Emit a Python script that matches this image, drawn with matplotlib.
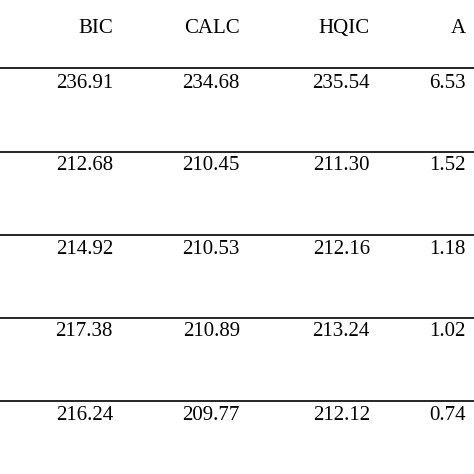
import matplotlib.pyplot as plt

plt.rcParams['font.family'] = ['Liberation Serif', 'DejaVu Serif']

columns = ['BIC', 'CALC', 'HQIC', 'A']
bic = ['236.91', '212.68', '214.92', '217.38', '216.24']
calc = ['234.68', '210.45', '210.53', '210.89', '209.77']
hqic = ['235.54', '211.30', '212.16', '213.24', '212.12']
a_col = ['6.53', '1.52', '1.18', '1.02', '0.74']

fig = plt.figure(figsize=(4.74, 4.74), dpi=100)
ax = fig.add_axes([0, 0, 1, 1])
ax.set_xlim(0, 474)
ax.set_ylim(474, 0)
ax.axis('off')

col_right = [113, 240, 370, 466]
fs = 15

# header
for x, name in zip(col_right, columns):
    ax.text(x, 28, name, ha='right', va='center', fontsize=fs)

line_y = [68, 152, 235, 318, 401]
row_y = [83, 166, 249, 332, 415]
for ly in line_y:
    ax.plot([0, 474], [ly, ly], color='black', lw=1.2)

for i, ry in enumerate(row_y):
    for x, col in zip(col_right, [bic, calc, hqic, a_col]):
        ax.text(x, ry, col[i], ha='right', va='center', fontsize=fs)

fig.savefig('out.png', dpi=100, facecolor='white')
